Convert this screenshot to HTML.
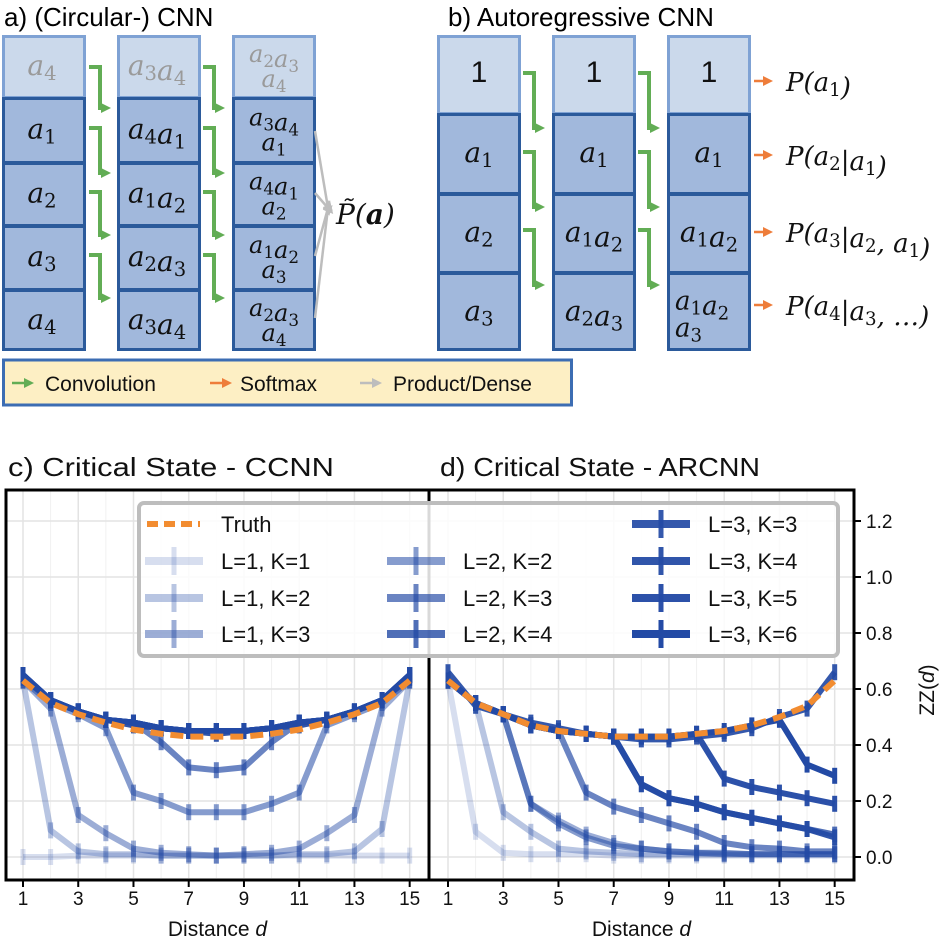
<!DOCTYPE html>
<html><head><meta charset="utf-8"><style>
html,body{margin:0;padding:0;background:#fff}
svg{display:block}
.s{font-family:"Liberation Sans",sans-serif}
.m{font-family:"DejaVu Serif","Liberation Serif",serif;font-style:italic}
</style></head><body>
<svg id="fig" width="945" height="943" viewBox="0 0 945 943" xmlns="http://www.w3.org/2000/svg">
<defs>
<marker id="ag" markerWidth="12" markerHeight="12" refX="2" refY="6" orient="auto" markerUnits="userSpaceOnUse"><path d="M0,1L10,6L0,11z" fill="#62ad55"/></marker>
<marker id="ao" markerWidth="12" markerHeight="12" refX="2" refY="6" orient="auto" markerUnits="userSpaceOnUse"><path d="M0,1L10,6L0,11z" fill="#ee7d3a"/></marker>
<marker id="ay" markerWidth="12" markerHeight="12" refX="2" refY="6" orient="auto" markerUnits="userSpaceOnUse"><path d="M0,1L10,6L0,11z" fill="#bdbdbd"/></marker>
</defs>
<g id="topg"></g>
<g id="charts"></g>
</svg>
<script>
// ---------- chart data ----------
const distances = [1,2,3,4,5,6,7,8,9,10,11,12,13,14,15];
const xTicks = [1,3,5,7,9,11,13,15];
const yTicks = [0.0,0.2,0.4,0.6,0.8,1.0,1.2];
const yTickLabels = ["0.0","0.2","0.4","0.6","0.8","1.0","1.2"];
const seriesNames = ["L=1, K=1","L=1, K=2","L=1, K=3","L=2, K=2","L=2, K=3","L=2, K=4","L=3, K=3","L=3, K=4","L=3, K=5","L=3, K=6"];
const seriesAlpha = [0.18,0.32,0.45,0.55,0.68,0.8,0.92,0.94,0.96,1.0];
const truthCC = [0.63,0.55,0.51,0.48,0.455,0.44,0.43,0.43,0.43,0.44,0.455,0.48,0.51,0.55,0.63];
const truthAR = [0.63,0.55,0.51,0.47,0.45,0.44,0.43,0.43,0.43,0.44,0.45,0.47,0.5,0.54,0.63];
const cc_L1K1 = [0.0,0.0,0.005,0.005,0.005,0.005,0.005,0.005,0.005,0.005,0.005,0.005,0.005,0.005,0.005];
const cc_L1K2 = [0.63,0.095,0.02,0.01,0.01,0.005,0.005,0.005,0.005,0.005,0.01,0.01,0.02,0.1,0.63];
const cc_L1K3 = [0.63,0.53,0.15,0.085,0.03,0.015,0.01,0.005,0.01,0.015,0.03,0.085,0.15,0.53,0.63];
const cc_L2K2 = [0.63,0.55,0.51,0.46,0.23,0.2,0.16,0.16,0.16,0.19,0.23,0.47,0.51,0.55,0.63];
const cc_L2K3 = [0.65,0.56,0.52,0.49,0.48,0.41,0.32,0.31,0.32,0.41,0.48,0.49,0.52,0.56,0.65];
const cc_L2K4 = [0.65,0.56,0.52,0.49,0.48,0.46,0.45,0.45,0.45,0.46,0.48,0.49,0.52,0.56,0.65];
const cc_L3K3 = [0.65,0.56,0.52,0.49,0.48,0.46,0.45,0.45,0.45,0.46,0.48,0.49,0.52,0.56,0.65];
const cc_L3K4 = [0.64,0.56,0.52,0.49,0.47,0.46,0.45,0.44,0.45,0.46,0.47,0.49,0.52,0.56,0.64];
const cc_L3K5 = [0.65,0.56,0.52,0.49,0.48,0.46,0.45,0.45,0.45,0.46,0.48,0.49,0.52,0.56,0.65];
const cc_L3K6 = [0.65,0.56,0.52,0.49,0.48,0.46,0.45,0.45,0.45,0.46,0.48,0.49,0.52,0.56,0.65];
const ar_L1K1 = [0.63,0.09,0.015,0.01,0.01,0.01,0.005,0.005,0.005,0.005,0.005,0.005,0.005,0.005,0.005];
const ar_L1K2 = [0.63,0.55,0.16,0.09,0.03,0.02,0.015,0.01,0.01,0.01,0.01,0.01,0.01,0.01,0.01];
const ar_L1K3 = [0.63,0.55,0.51,0.19,0.13,0.08,0.05,0.03,0.02,0.015,0.01,0.01,0.01,0.01,0.01];
const ar_L2K2 = [0.63,0.55,0.51,0.19,0.12,0.07,0.04,0.03,0.02,0.015,0.015,0.01,0.01,0.01,0.01];
const ar_L2K3 = [0.63,0.55,0.51,0.47,0.45,0.23,0.18,0.15,0.12,0.09,0.05,0.035,0.03,0.02,0.02];
const ar_L2K4 = [0.63,0.55,0.51,0.47,0.45,0.44,0.43,0.26,0.21,0.19,0.16,0.14,0.12,0.1,0.08];
const ar_L3K3 = [0.66,0.54,0.51,0.48,0.46,0.44,0.43,0.42,0.42,0.43,0.44,0.46,0.5,0.53,0.66];
const ar_L3K4 = [0.63,0.55,0.51,0.47,0.45,0.44,0.43,0.26,0.21,0.19,0.16,0.14,0.12,0.1,0.07];
const ar_L3K5 = [0.63,0.55,0.51,0.47,0.45,0.44,0.43,0.43,0.43,0.44,0.28,0.25,0.23,0.21,0.19];
const ar_L3K6 = [0.63,0.55,0.51,0.47,0.45,0.44,0.43,0.43,0.43,0.44,0.45,0.47,0.49,0.33,0.29];
const ccSeries = [cc_L1K1,cc_L1K2,cc_L1K3,cc_L2K2,cc_L2K3,cc_L2K4,cc_L3K3,cc_L3K4,cc_L3K5,cc_L3K6];
const arSeries = [ar_L1K1,ar_L1K2,ar_L1K3,ar_L2K2,ar_L2K3,ar_L2K4,ar_L3K3,ar_L3K4,ar_L3K5,ar_L3K6];

const NS = "http://www.w3.org/2000/svg";
function mk(tag, attrs, parent){const e=document.createElementNS(NS,tag);for(const k in attrs)e.setAttribute(k,attrs[k]);parent.appendChild(e);return e;}
function txt(str, attrs, parent){const e=mk("text",attrs,parent);e.innerHTML=str;return e;}

// ---------- diagram ----------
const topG=document.getElementById("topg");
txt("a) (Circular-) CNN",{x:4,y:26,"font-size":26,class:"s",fill:"#000"},topG);
txt("b) Autoregressive CNN",{x:448,y:26,"font-size":26,class:"s",fill:"#000"},topG);

function cell(x,y,w,h,light,parent){
  const r=mk("rect",{x:x+1.5,y:y+1.5,width:w-3,height:h-3,fill:light?"#cbd9eb":"#a1b8dc",stroke:light?"#7fa2d4":"#2b5a9b","stroke-width":3},parent);
  
  
}
function A(n){return 'a<tspan font-size="70%" font-style="normal" dy="5">'+n+'</tspan><tspan dy="-5"></tspan>';}
function lab(str,x,y,size,col,parent){const t=txt(str,{x:x,y:y,"font-size":size,class:"m",fill:col,"text-anchor":"middle"},parent);return t;}
const ra=[35,97,162,225,289,351];
const colsA=[2,117,232];
const textsA=[
 [[A(4)],[A(1)],[A(2)],[A(3)],[A(4)]],
 [[A(3)+A(4)],[A(4)+A(1)],[A(1)+A(2)],[A(2)+A(3)],[A(3)+A(4)]],
 [[A(2)+A(3),A(4)],[A(3)+A(4),A(1)],[A(4)+A(1),A(2)],[A(1)+A(2),A(3)],[A(2)+A(3),A(4)]]
];
colsA.forEach((cx,ci)=>{
  for(let r=0;r<5;r++){
    cell(cx,ra[r],84,ra[r+1]-ra[r]+(r<4?2:0),r===0,topG);
    const col=r===0?"#9a9a9a":"#111";
    const lines=textsA[ci][r];
    const mid=(ra[r]+ra[r+1])/2;
    if(lines.length===1) lab(lines[0],cx+40,mid+9,28,col,topG);
    else{lab(lines[0],cx+42,mid-4,24,col,topG);lab(lines[1],cx+42,mid+21,24,col,topG);}
  }
});
function bracket(x,y1,y2,parent){
  const p=mk("path",{d:`M${x},${y1}H${x+11}V${y2}H${x+14}`,fill:"none",stroke:"#62ad55","stroke-width":4,"marker-end":"url(#ag)"},parent);
  
  
}
[[67,108],[128,173],[192,235],[255,298]].forEach(b=>{bracket(89,b[0],b[1],topG);bracket(203,b[0],b[1],topG);});
[131,193,256,318].forEach(y=>{const l=mk("line",{x1:315,y1:y,x2:328,y2:208,stroke:"#bdbdbd","stroke-width":2.5,"marker-end":"url(#ay)"},topG);});
txt('P̃(<tspan font-weight="bold">a</tspan>)',{x:336,y:224,"font-size":28,class:"m",fill:"#111"},topG);
const rb=[35,113,193,272,351];
const colsB=[437,552,667];
const textsB=[[["1"],[A(1)],[A(2)],[A(3)]],[["1"],[A(1)],[A(1)+A(2)],[A(2)+A(3)]],[["1"],[A(1)],[A(1)+A(2)],[A(1)+A(2),A(3)]]];
colsB.forEach((cx,ci)=>{
  for(let r=0;r<4;r++){
    cell(cx,rb[r],84,rb[r+1]-rb[r]+(r<3?2:0),r===0,topG);
    const lines=textsB[ci][r];const mid=(rb[r]+rb[r+1])/2;
    if(lines[0]==="1"){const t=txt("1",{x:cx+42,y:mid+8,"font-size":30,class:"s",fill:"#111","text-anchor":"middle"},topG);}
    else if(lines.length===1) lab(lines[0],cx+42,mid+9,28,"#111",topG);
    else{const t1=txt(lines[0],{x:cx+8,y:mid-2,"font-size":26,class:"m",fill:"#111"},topG);const t2=txt(lines[1],{x:cx+8,y:mid+25,"font-size":26,class:"m",fill:"#111"},topG);}
  }
});
[[73,128],[152,207],[230,285]].forEach(b=>{bracket(523,b[0],b[1],topG);bracket(638,b[0],b[1],topG);});
const pl=['P('+A(1)+')','P('+A(2)+'|'+A(1)+')','P('+A(3)+'|'+A(2)+', '+A(1)+')','P('+A(4)+'|'+A(3)+', …)'];
[81,155,232,305].forEach((y,i)=>{
  const l=mk("line",{x1:754,y1:y,x2:765,y2:y,stroke:"#ee7d3a","stroke-width":2.5,"marker-end":"url(#ao)"},topG);
  
  const t=txt(pl[i],{x:786,y:y+10,"font-size":26,class:"m",fill:"#111"},topG);
  
});
const lb=mk("rect",{x:3.5,y:360,width:568,height:45,fill:"#fdefc4",stroke:"#3c6db3","stroke-width":3},topG);


[["#62ad55","Convolution",12,45,"ag"],["#ee7d3a","Softmax",210,240,"ao"],["#bdbdbd","Product/Dense",360,393,"ay"]].forEach(a=>{
  const l=mk("line",{x1:a[2],y1:383,x2:a[2]+14,y2:383,stroke:a[0],"stroke-width":2.5,"marker-end":"url(#"+a[4]+")"},topG);
  
  const t=txt(a[1],{x:a[3],y:391,"font-size":21,class:"s",fill:"#111"},topG);
  
});

// ---------- charts ----------
const ch=document.getElementById("charts");
const yPix=v=>857-v*280;
function makeX(x0){return d=>x0+(d-1)*27.62;}
const BLUE="35,74,165";
function drawPanel(left,right,xs,truth,series,title,titleX,titleLen,name){
  const g=mk("g",{},ch);
  
  
  xTicks.forEach(d=>{const l=mk("line",{x1:xs(d),x2:xs(d),y1:490,y2:878,stroke:"#e3e3e3","stroke-width":1.5},g);});
  distances.filter(d=>d%2===0).forEach(d=>{mk("line",{x1:xs(d),x2:xs(d),y1:490,y2:878,stroke:"#f0f0f0","stroke-width":1},g);});
  yTicks.forEach(v=>{const l=mk("line",{x1:left,x2:right,y1:yPix(v),y2:yPix(v),stroke:"#e3e3e3","stroke-width":1.5},g);});
  series.forEach((s,i)=>{
    const pts=distances.map((d,j)=>xs(d)+","+yPix(s[j])).join(" ");
    const p=mk("polyline",{points:pts,fill:"none",stroke:`rgba(${BLUE},${seriesAlpha[i]})`,"stroke-width":6,"stroke-linejoin":"round"},g);
    
    distances.forEach((d,j)=>{
      const m=mk("path",{d:`M${xs(d)},${yPix(s[j])-8}V${yPix(s[j])+8}`,stroke:`rgba(${BLUE},${seriesAlpha[i]})`,"stroke-width":5,fill:"none"},g);
      
    });
  });
  const tp=distances.map((d,j)=>xs(d)+","+yPix(truth[j])).join(" ");
  const t=mk("polyline",{points:tp,fill:"none",stroke:"#f28c30","stroke-width":6,"stroke-dasharray":"13 7"},g);
  
  const f=mk("rect",{x:left,y:490,width:right-left,height:390,fill:"none",stroke:"#000","stroke-width":3},g);
  
  xTicks.forEach(d=>{
    mk("line",{x1:xs(d),x2:xs(d),y1:880,y2:887,stroke:"#000","stroke-width":2},g);
    const tl=txt(String(d),{x:xs(d),y:905,"font-size":19,class:"s","text-anchor":"middle",fill:"#111"},g);
    
  });
  const xt=txt('Distance <tspan font-style="italic">d</tspan>',{x:(left+right)/2,y:936,"font-size":21,class:"s","text-anchor":"middle",fill:"#111"},g);
  
  const tt=txt(title,{x:titleX,y:476,"font-size":26,class:"s",fill:"#111",textLength:titleLen,lengthAdjust:"spacingAndGlyphs"},g);
  
}
drawPanel(6,429,makeX(23),truthCC,ccSeries,"c) Critical State - CCNN",8,326,"panel-c-ccnn");
drawPanel(429,854,makeX(448),truthAR,arSeries,"d) Critical State - ARCNN",440,320,"panel-d-arcnn");
yTicks.forEach((v,i)=>{
  mk("line",{x1:854,x2:861,y1:yPix(v),y2:yPix(v),stroke:"#000","stroke-width":2},ch);
  const t=txt(yTickLabels[i],{x:866,y:yPix(v)+7,"font-size":19,class:"s",fill:"#111"},ch);
  
});
const yl=txt('ZZ(<tspan font-style="italic">d</tspan>)',{x:0,y:0,"font-size":21,class:"s",fill:"#111","text-anchor":"middle",transform:"translate(934,690) rotate(-90)"},ch);

const lg=mk("g",{},ch);


mk("rect",{x:139,y:503,width:699,height:153,rx:5,fill:"rgba(255,255,255,0.85)",stroke:"#bdbdbd","stroke-width":4},lg);
function legEntry(x,y,color,label,truth){
  if(truth){mk("line",{x1:147,x2:200,y1:y,y2:y,stroke:"#f28c30","stroke-width":6,"stroke-dasharray":"11 6"},lg);}
  else{
    mk("line",{x1:x,x2:x+58,y1:y,y2:y,stroke:color,"stroke-width":8},lg);
    mk("line",{x1:x+29,x2:x+29,y1:y-14,y2:y+14,stroke:color,"stroke-width":5},lg);
  }
  const t=txt(label,{x:x+76,y:y+8,"font-size":22,class:"s",fill:"#111"},lg);
  
}
legEntry(145,524,null,"Truth",true);
const legPos=[[145,561],[145,598],[145,634],[387,561],[387,598],[387,634],[632,524],[632,561],[632,598],[632,634]];
seriesNames.forEach((n,i)=>legEntry(legPos[i][0],legPos[i][1],`rgba(${BLUE},${seriesAlpha[i]})`,n,false));
</script>
</body></html>
